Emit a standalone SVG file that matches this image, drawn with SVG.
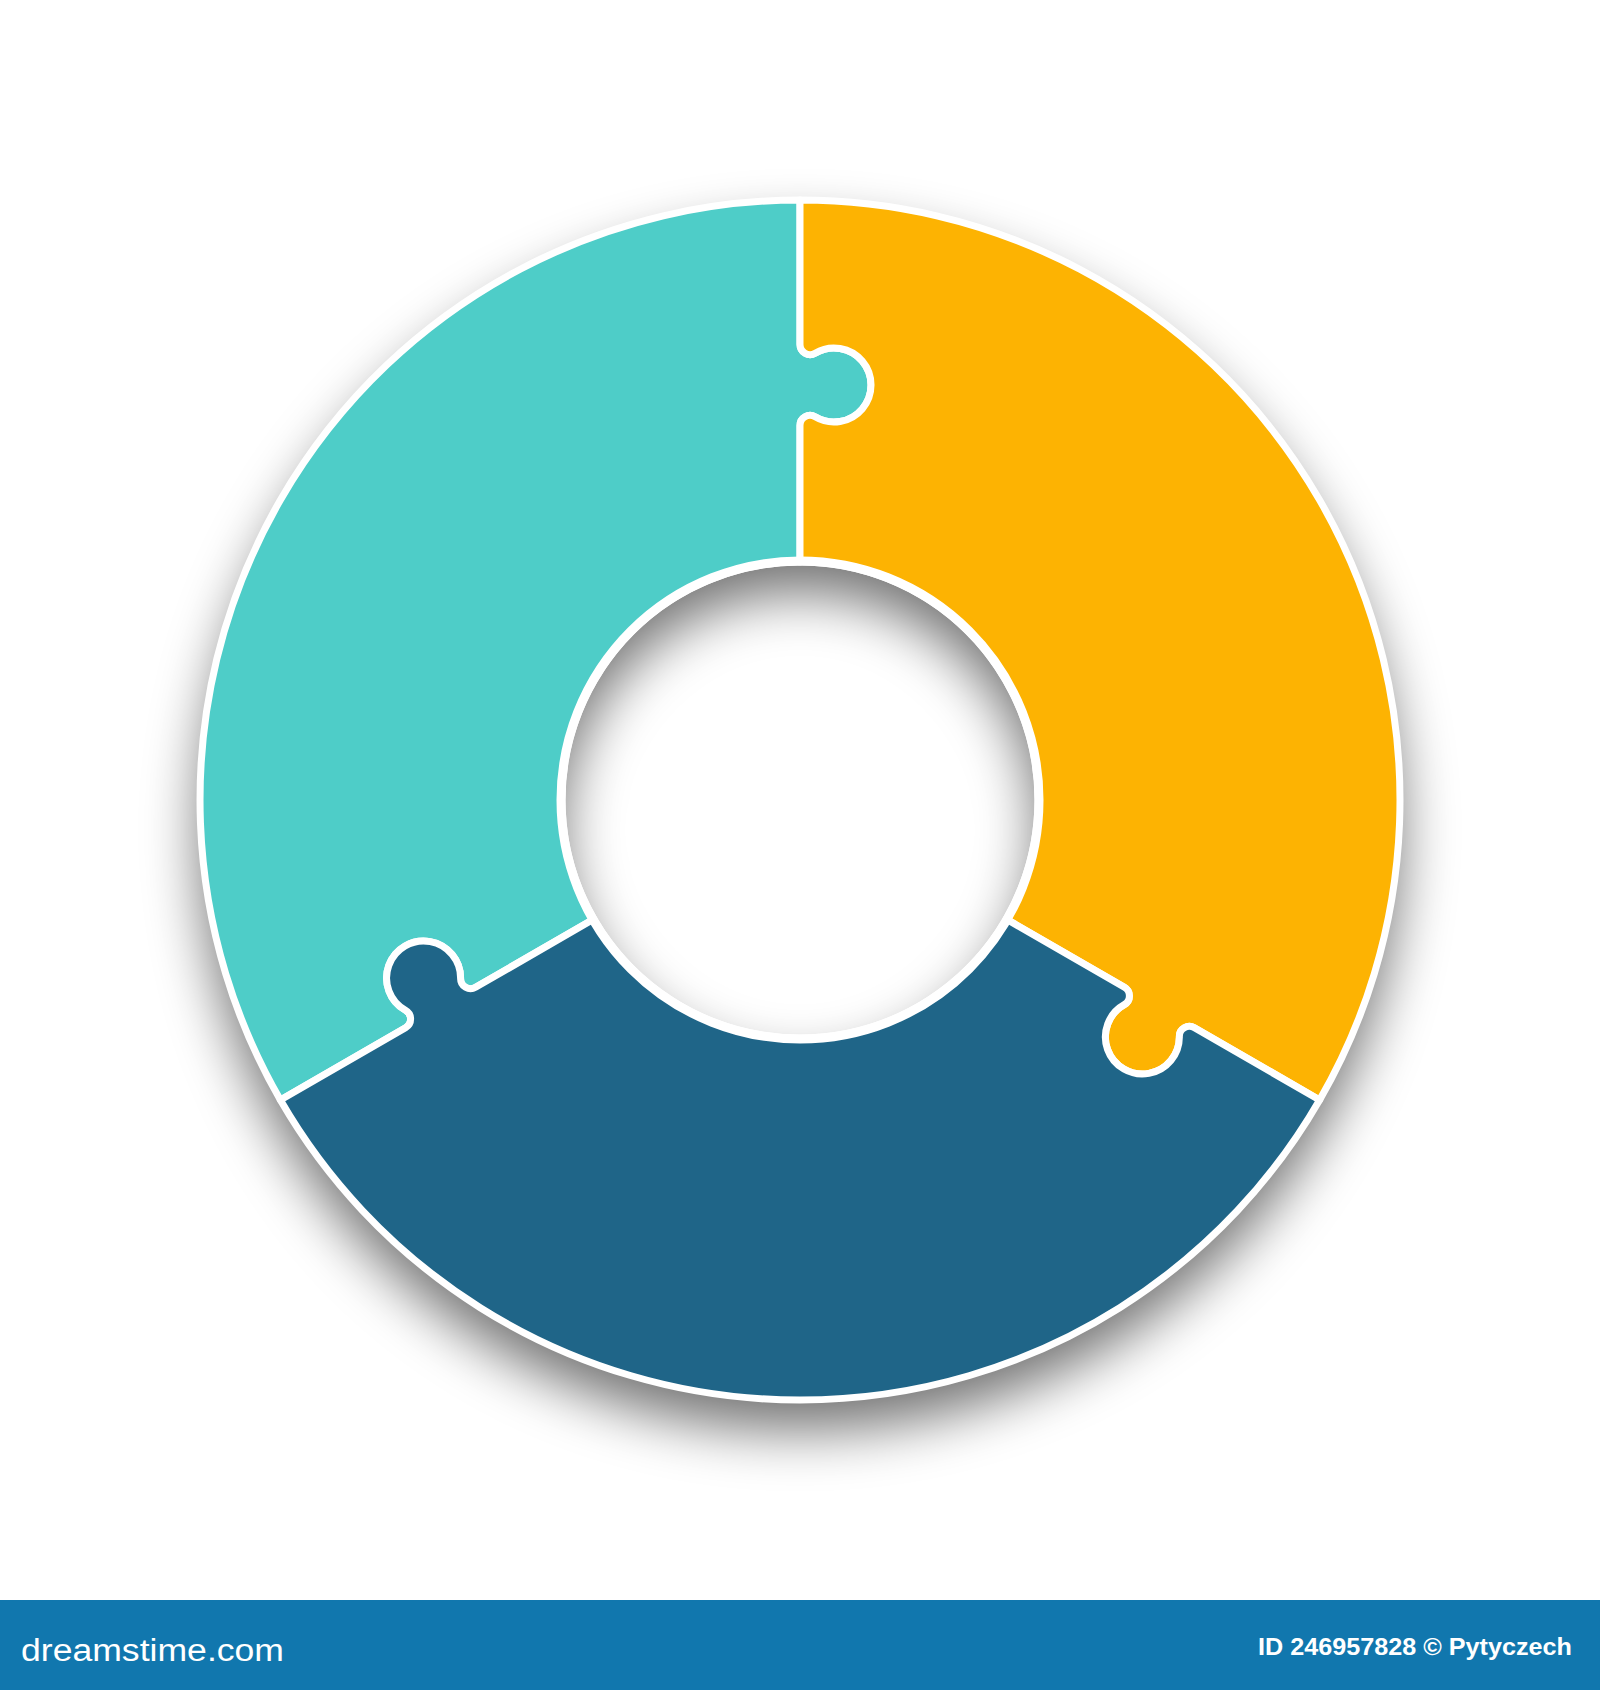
<svg xmlns="http://www.w3.org/2000/svg" xmlns:xlink="http://www.w3.org/1999/xlink" width="1600" height="1690" viewBox="0 0 1600 1690">
  <style>
    .piece { stroke: #ffffff; stroke-width: 7; stroke-linejoin: round; }
    .teal { fill: #4ECDC8; }
    .orange { fill: #FDB302; }
    .blue { fill: #1F6588; }
    .banner-text { fill: #ffffff; font-family: "Liberation Sans", "DejaVu Sans", sans-serif; }
  </style>
  <defs>
    <filter id="blur" x="-30%" y="-30%" width="160%" height="160%">
      <feGaussianBlur stdDeviation="28"/>
    </filter>
    <path id="piece" d="M 280.4 1100 A 600 600 0 0 1 800 200 L 800 344.6 A 10 10 0 0 0 815.1 353.2 A 37 37 0 1 1 815.1 416.8 A 10 10 0 0 0 800 425.4 L 800 562 A 238 238 0 0 0 593.9 919 L 475.6 987.3 A 10 10 0 0 1 460.6 978.5 A 37 37 0 1 0 405.5 1010.3 A 10 10 0 0 1 405.6 1027.7 L 280.4 1100 Z"/>
  </defs>
  <rect x="0" y="0" width="1600" height="1690" fill="#ffffff"/>

  <g id="shadow" filter="url(#blur)" opacity="0.55">
    <path transform="translate(0,30)" fill="#000000" fill-rule="evenodd" d="M 200 800 A 600 600 0 1 0 1400 800 A 600 600 0 1 0 200 800 Z M 562 800 A 238 238 0 1 1 1038 800 A 238 238 0 1 1 562 800 Z"/>
  </g>

  <g id="piece-teal">
    <use xlink:href="#piece" href="#piece" class="piece teal"/>
  </g>
  <g id="piece-orange">
    <use xlink:href="#piece" href="#piece" class="piece orange" transform="rotate(120 800 800)"/>
  </g>
  <g id="piece-blue">
    <use xlink:href="#piece" href="#piece" class="piece blue" transform="rotate(240 800 800)"/>
  </g>
  <g id="hole-rim">
    <circle cx="800" cy="800" r="239" fill="none" stroke="#ffffff" stroke-width="9"/>
  </g>
  <g id="connectors"></g>

  <g id="banner">
    <rect x="0" y="1600" width="1600" height="90" fill="#1177AE"/>
    <text class="banner-text" x="21" y="1661" font-size="31" textLength="263" lengthAdjust="spacingAndGlyphs">dreamstime.com</text>
    <text class="banner-text" x="1258" y="1655" font-size="23" font-weight="bold" textLength="314" lengthAdjust="spacingAndGlyphs">ID 246957828 © Pytyczech</text>
  </g>
</svg>
